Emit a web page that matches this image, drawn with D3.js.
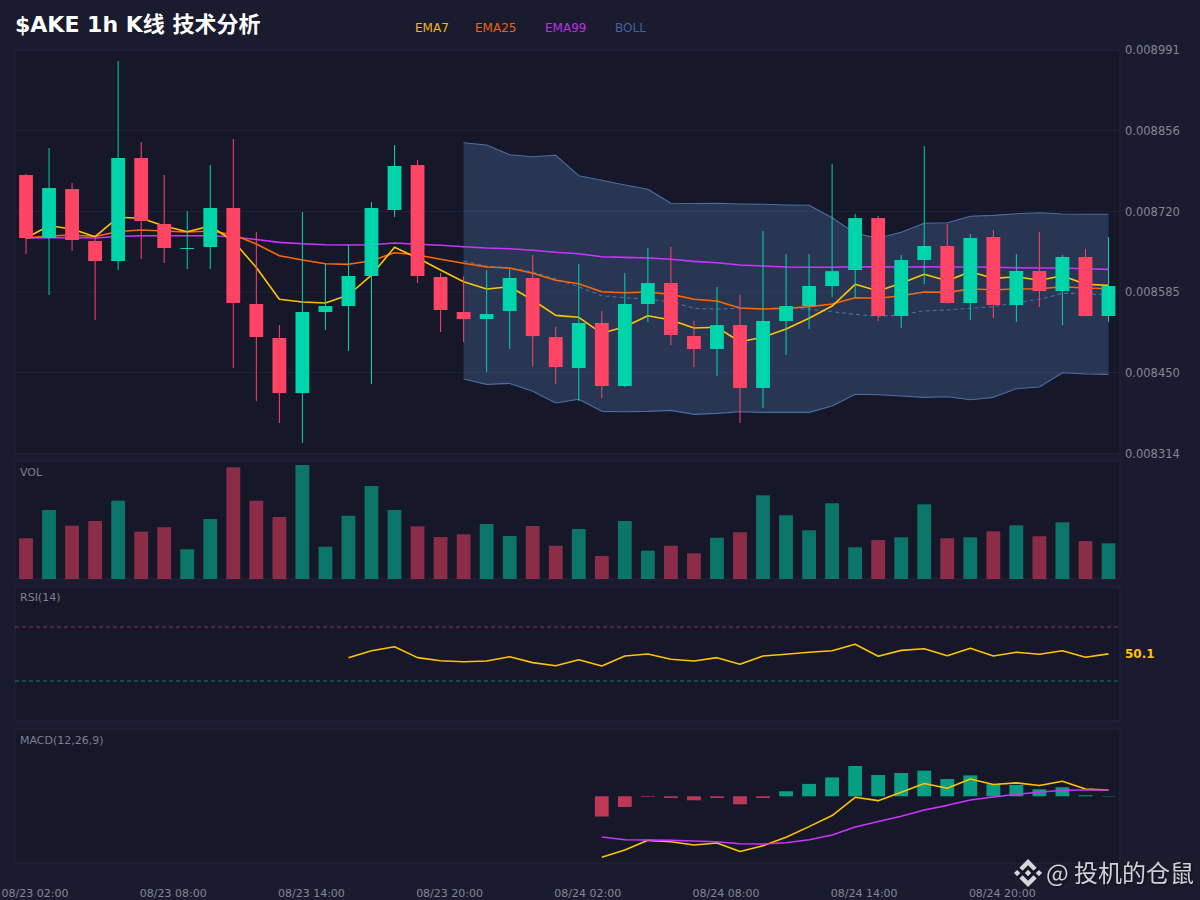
<!DOCTYPE html>
<html>
<head>
<meta charset="utf-8">
<script src="https://cdn.jsdelivr.net/npm/d3@7"></script>
<style>
  html, body { margin: 0; padding: 0; background: #1a1b2e; }
  svg { display: block; }
  text { font-family: "DejaVu Sans", "Noto Sans CJK SC", sans-serif; }
</style>
</head>
<body>
<div id="chart"></div>
<script>
// all prices are in units of 0.000001
var opens = [8781.2,8675.5,8757.7,8670.5,8636.9,8809.8,8699,8658,8660.4,8725.9,8564.8,8507.7,8415.4,8551.4,8561.4,8611.8,8722.5,8798,8610.1,8551.4,8539.6,8553,8608.5,8509.4,8457.4,8533,8427.2,8564.8,8600,8511.1,8489.3,8529.5,8423.9,8536.3,8561.4,8595,8621.8,8709,8544.7,8638.6,8662.1,8566.5,8677.2,8563.1,8620.2,8586.6,8643.7,8544.7];
var closes = [8675.5,8759.4,8672.2,8636.9,8809.8,8704.1,8658.8,8658.8,8725.9,8566.5,8509.4,8415.4,8551.4,8561.4,8611.8,8725.9,8796.4,8611.8,8554.7,8539.5,8548,8608.5,8511,8459,8533,8427.2,8564.8,8600,8512.8,8489.3,8529.5,8423.9,8536.3,8561.4,8595,8620,8709,8544.7,8638.6,8662.1,8566.5,8675.5,8563.1,8620.2,8586.6,8643.7,8544.7,8595];
var highs = [8783,8826.6,8767.8,8677.2,8972.5,8836.6,8781.2,8720.8,8798,8841.7,8685.6,8529.5,8719.2,8631.9,8663.8,8735.9,8831.6,8806.4,8616.8,8611.8,8621.8,8623.5,8647,8526.2,8631.9,8553,8616.8,8658.8,8660.4,8536.3,8593.3,8579.9,8687.3,8648.7,8648.7,8799.7,8715.8,8712.5,8647,8829.9,8699,8682.2,8689,8648.7,8685.6,8647,8657.1,8677.2];
var lows = [8648.7,8579.9,8653.7,8537.9,8621.8,8640.3,8633.6,8623.5,8623.5,8457.4,8402,8365.1,8331.5,8521.2,8485.9,8430.5,8711,8600,8517.8,8501,8450.7,8489.3,8459.9,8430.5,8402,8407,8425.5,8534.6,8496,8459,8444,8365.1,8390.3,8479.2,8522.8,8576.5,8574.8,8536.3,8524.5,8598.3,8565.7,8538,8541.3,8534.6,8559.8,8529.5,8543.9,8534.6];

var ema7 = [8675.5,8696.2,8690.6,8677.7,8710.3,8708.6,8695.7,8686.1,8695.7,8670.5,8626,8572.7,8568.1,8566.5,8579.9,8613.4,8659.9,8642,8621.8,8602.2,8590,8593.8,8571.5,8545.8,8542.5,8515.6,8526.7,8545.2,8538,8524.5,8525.7,8501.5,8508.9,8522.8,8540.8,8561.4,8597.8,8586.6,8599.5,8614.6,8603.9,8619,8607.9,8610.6,8604.6,8612.3,8597.8,8596.2];
var ema25 = [8675.5,8678.9,8680.6,8678.1,8686.4,8689,8687.3,8685.6,8687.3,8681.1,8665.5,8645.8,8638.6,8632.4,8631.4,8637.4,8650.9,8647,8639.8,8633.1,8626.9,8625.2,8616.3,8604.6,8598.9,8585.4,8583.7,8584.9,8581,8572.7,8569.8,8558.1,8556.4,8557.6,8560.3,8564.8,8575.4,8574.4,8578.7,8584.9,8584.4,8590,8588.8,8590,8590.5,8593.8,8591.6,8590.5];
var ema99 = [8675.5,8676,8676.4,8675.5,8678.1,8679.4,8679.4,8679.4,8679.4,8677.2,8673,8668.3,8666,8664.3,8663.8,8664.3,8667.2,8665,8663.3,8660.9,8658.8,8657.6,8654.9,8651.6,8649.2,8644.2,8643.1,8642,8639.8,8636.4,8634.1,8630.2,8628.6,8626.9,8626.6,8626.6,8627.4,8627.2,8626.9,8627.4,8626.9,8626.9,8626.4,8625.7,8625.2,8625.2,8624,8623];

// bollinger starts at candle 19
var bollStart = 19;
var bollUpper = [8835.4,8831.6,8815.3,8812,8814.3,8780.1,8772.4,8764.5,8757.3,8733.8,8733.4,8733.8,8732.6,8732.1,8730.9,8730.4,8709.6,8683.4,8675,8685.1,8700.2,8701.2,8712,8713.6,8716.3,8718,8715.8,8715.3,8715.3];
var bollMid = [8636.9,8628.6,8625.2,8618.5,8606.7,8593.8,8578.7,8575.4,8572.7,8568.7,8557.6,8556.4,8557.6,8556.9,8558.6,8555.9,8551.9,8547.5,8544.2,8546.3,8553.5,8554.7,8557.6,8560.3,8567.6,8572.7,8582.8,8582.1,8580.4];
var bollLower = [8438.9,8430,8431.6,8418.3,8398.7,8404.9,8384.7,8384,8384.7,8386.4,8379.7,8381.4,8384,8383,8383,8383,8393.6,8413.3,8412.6,8410.4,8408.2,8409.2,8404.2,8408.2,8422.6,8425.5,8449.5,8447.3,8446.8];

// relative volume, biggest bar = 100
var volumes = [35.7,60.5,46.8,50.9,68.7,41.5,45.4,26.1,52.6,98,68.7,54.4,100,28.3,55.5,81.6,60.5,46.2,36.8,39.2,48.2,37.7,46.5,29.2,43.9,20.2,50.9,24.8,29.2,22.5,36.2,41,73.4,55.9,42.7,66.4,27.8,34.2,36.6,65.5,35.7,36.6,41.8,47.1,37.5,49.7,33.3,31.3];

var rsiStart = 14;
var rsi = [47.3,52.4,55.4,47.3,45,44.3,44.8,48,43.6,41.3,45.8,41.1,48.5,50,46.1,44.8,47.3,42.4,48.5,49.8,51.3,52.4,57.2,48.3,52.7,53.9,48.7,54.2,48.5,51.3,49.8,52.4,47.6,50.1];

var macdStart = 25;
var macdHist = [-12.1,-6.4,-0.4,-1,-2.4,-1,-4.8,-1,3,7.4,11.3,18.1,12.7,13.9,15.3,10.3,12.5,7.2,6.8,4.2,5.4,0.6,0.2];
var macdLine = [-36.4,-32,-26.3,-27.1,-29.1,-27.9,-33,-29.5,-24.5,-18.1,-11.5,-0.6,-2.6,2.4,7.6,4.8,10.3,7,8,6.4,9,4.4,3.8];
var macdSignal = [-24.3,-25.9,-26.1,-26.3,-26.7,-27.1,-28.3,-28.5,-27.7,-25.9,-23.1,-18.3,-15.1,-11.9,-8.2,-5.4,-2.2,-0.4,1.2,2.4,3.6,3.8,3.8];

var priceTicks = [8991,8856,8720,8585,8450,8314];
var timeTicks = [0,6,12,18,24,30,36,42];
var timeLabels = ["08/23 02:00","08/23 08:00","08/23 14:00","08/23 20:00","08/24 02:00","08/24 08:00","08/24 14:00","08/24 20:00"];
var legendNames = ["EMA7","EMA25","EMA99","BOLL"];

var UP = "#00d4aa", DOWN = "#ff4466";
var YELLOW = "#ffc400", ORANGE = "#ff6600", PURPLE = "#cc33ff", BLUE = "#4a6fa5";
var legendColors = ["#f0b90b","#e8641a","#b833e0","#44609c"];
var legendX = [415,475,545,615];

var svg = d3.select("#chart").append("svg")
  .attr("width", 1200)
  .attr("height", 900);

svg.append("rect").attr("width", 1200).attr("height", 900).attr("fill", "#1a1b2e");

// panes
var left = 15, right = 1120;
var panes = [
  {top: 50, bottom: 453.5},
  {top: 461, bottom: 579},
  {top: 587, bottom: 721},
  {top: 729, bottom: 863}
];
panes.forEach(function(p) {
  svg.append("rect")
    .attr("x", left).attr("y", p.top)
    .attr("width", right - left).attr("height", p.bottom - p.top)
    .attr("fill", "#161729")
    .attr("stroke", "#23253f")
    .attr("stroke-width", 1);
});

// scales
var x = d3.scaleBand()
  .domain(d3.range(opens.length))
  .range([14.5, 1120])
  .paddingInner(0.4)
  .paddingOuter(0.2);
var cx = function(i) { return x(i) + x.bandwidth() / 2; };

var y = d3.scaleLinear().domain([8314, 8991]).range([453.5, 50]);
var yVol = d3.scaleLinear().domain([0, 100]).range([579, 465]);
var yRsi = d3.scaleLinear().domain([0, 100]).range([721.5, 586.5]);
var yMacd = d3.scaleLinear().domain([-40, 40]).range([863.3, 729.3]);

// price grid + axis
svg.append("g")
  .selectAll("line")
  .data(priceTicks)
  .enter()
  .append("line")
  .attr("x1", left).attr("x2", right)
  .attr("y1", function(d) { return y(d); })
  .attr("y2", function(d) { return y(d); })
  .attr("stroke", "#20223a")
  .attr("stroke-width", 1);

var priceAxis = svg.append("g")
  .attr("transform", "translate(1119,0)")
  .call(d3.axisRight(y)
    .tickValues(priceTicks)
    .tickSize(0)
    .tickPadding(6)
    .tickFormat(function(d) { return (d / 1e6).toFixed(6); }));
priceAxis.select(".domain").remove();
priceAxis.selectAll("text")
  .attr("fill", "#85859a")
  .style("font-size", "11.5px");

// bollinger band
var bollIdx = d3.range(bollUpper.length);
var band = d3.area()
  .x(function(d) { return cx(d + bollStart); })
  .y0(function(d) { return y(bollLower[d]); })
  .y1(function(d) { return y(bollUpper[d]); });
svg.append("path").datum(bollIdx).attr("d", band)
  .attr("fill", BLUE).attr("fill-opacity", 0.35);

function drawLine(values, start, scale, color, width, dash) {
  var line = d3.line()
    .x(function(d, i) { return cx(i + start); })
    .y(function(d) { return scale(d); });
  var p = svg.append("path").datum(values)
    .attr("d", line)
    .attr("fill", "none")
    .attr("stroke", color)
    .attr("stroke-width", width)
    .attr("stroke-linejoin", "round");
  if (dash) p.attr("stroke-dasharray", dash);
  return p;
}

drawLine(bollUpper, bollStart, y, BLUE, 1.1);
drawLine(bollLower, bollStart, y, BLUE, 1.1);
drawLine(bollMid, bollStart, y, BLUE, 1.1, "4 3");
drawLine(ema99, 0, y, PURPLE, 1.6);
drawLine(ema25, 0, y, ORANGE, 1.6);
drawLine(ema7, 0, y, YELLOW, 1.6);

// candles
var candles = svg.append("g")
  .selectAll("g")
  .data(d3.range(opens.length))
  .enter()
  .append("g");

candles.append("line")
  .attr("x1", function(d) { return cx(d); })
  .attr("x2", function(d) { return cx(d); })
  .attr("y1", function(d) { return y(highs[d]); })
  .attr("y2", function(d) { return y(lows[d]); })
  .attr("stroke", function(d) { return closes[d] >= opens[d] ? UP : DOWN; })
  .attr("stroke-width", 1);

candles.append("rect")
  .attr("x", function(d) { return x(d); })
  .attr("width", x.bandwidth())
  .attr("y", function(d) { return y(Math.max(opens[d], closes[d])); })
  .attr("height", function(d) { return Math.max(1, Math.abs(y(opens[d]) - y(closes[d]))); })
  .attr("fill", function(d) { return closes[d] >= opens[d] ? UP : DOWN; });

// volume
svg.append("g")
  .selectAll("rect")
  .data(volumes)
  .enter()
  .append("rect")
  .attr("x", function(d, i) { return x(i); })
  .attr("width", x.bandwidth())
  .attr("y", function(d) { return yVol(d); })
  .attr("height", function(d) { return yVol(0) - yVol(d); })
  .attr("fill", function(d, i) { return closes[i] >= opens[i] ? UP : DOWN; })
  .attr("fill-opacity", 0.5);

// rsi
[[70, DOWN], [30, UP]].forEach(function(g) {
  svg.append("line")
    .attr("x1", left).attr("x2", right)
    .attr("y1", yRsi(g[0])).attr("y2", yRsi(g[0]))
    .attr("stroke", g[1])
    .attr("stroke-opacity", 0.55)
    .attr("stroke-dasharray", "4 3");
});
drawLine(rsi, rsiStart, yRsi, YELLOW, 1.6);

svg.append("text")
  .attr("x", 1125).attr("y", yRsi(rsi[rsi.length - 1]) + 4.5)
  .attr("fill", YELLOW)
  .style("font-size", "12px")
  .style("font-weight", "bold")
  .text(rsi[rsi.length - 1].toFixed(1));

// macd
svg.append("g")
  .selectAll("rect")
  .data(macdHist)
  .enter()
  .append("rect")
  .attr("x", function(d, i) { return x(i + macdStart); })
  .attr("width", x.bandwidth())
  .attr("y", function(d) { return Math.min(yMacd(d), yMacd(0)); })
  .attr("height", function(d) { return Math.abs(yMacd(d) - yMacd(0)); })
  .attr("fill", function(d) { return d >= 0 ? UP : DOWN; })
  .attr("fill-opacity", 0.72);
drawLine(macdLine, macdStart, yMacd, YELLOW, 1.6);
drawLine(macdSignal, macdStart, yMacd, PURPLE, 1.6);

// pane labels
[["VOL", 475.5], ["RSI(14)", 601], ["MACD(12,26,9)", 743.5]].forEach(function(l) {
  svg.append("text")
    .attr("x", 20).attr("y", l[1])
    .attr("fill", "#7f7f92")
    .style("font-size", "11px")
    .text(l[0]);
});

// time axis
var timeAxis = svg.append("g")
  .attr("transform", "translate(9,889.5)")
  .call(d3.axisBottom(x)
    .tickValues(timeTicks)
    .tickSize(0)
    .tickPadding(0)
    .tickFormat(function(d, i) { return timeLabels[i]; }));
timeAxis.select(".domain").remove();
timeAxis.selectAll("text")
  .attr("fill", "#85859a")
  .style("font-size", "11px");

// title + legend
svg.append("text")
  .attr("x", 15).attr("y", 32)
  .attr("fill", "#ffffff")
  .style("font-size", "22px")
  .style("font-weight", "bold")
  .text("$AKE 1h K线 技术分析");

legendNames.forEach(function(name, i) {
  svg.append("text")
    .attr("x", legendX[i]).attr("y", 32)
    .attr("fill", legendColors[i])
    .style("font-size", "12px")
    .text(name);
});

// watermark
var mark = svg.append("g")
  .attr("transform", "translate(1014,859) scale(0.222)")
  .attr("fill", "#d6d6da")
  .style("filter", "drop-shadow(3px 3px 3px rgba(0,0,0,0.5))");
["M38.73 53.2L63.31 28.62L87.9 53.21L102.2 38.91L63.31 0L24.43 38.9Z",
 "M0 63.31L14.3 49.01L28.6 63.31L14.3 77.61Z",
 "M38.73 73.41L63.31 98L87.9 73.4L102.2 87.7L63.31 126.61L24.42 87.72Z",
 "M98 63.31L112.3 49.01L126.61 63.31L112.3 77.61Z",
 "M77.82 63.3L63.31 48.79L48.8 63.3L63.31 77.83Z"].forEach(function(d) {
  mark.append("path").attr("d", d);
});

svg.append("text")
  .attr("x", 1046).attr("y", 882)
  .attr("fill", "#d0d0d5")
  .style("font-size", "24px")
  .style("font-family", "'Noto Sans CJK SC', sans-serif")
  .style("filter", "drop-shadow(1px 1px 1px rgba(0,0,0,0.5))")
  .text("@ 投机的仓鼠");
</script>
</body>
</html>
